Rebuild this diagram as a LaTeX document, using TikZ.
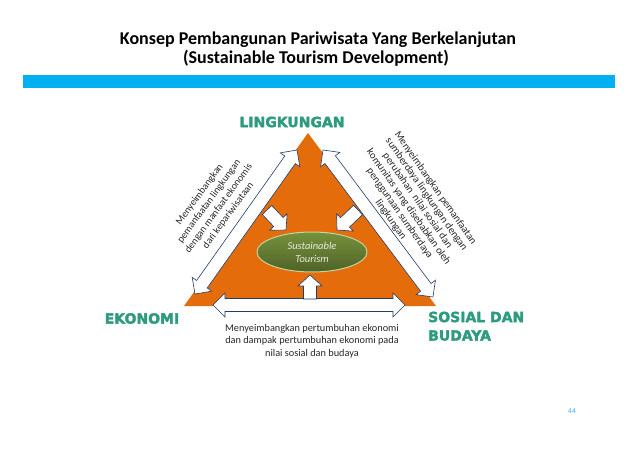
\documentclass[tikz,border=0pt]{standalone}
\usepackage{fontspec}
\setmainfont{Carlito}
\newfontfamily\heavyfont{DejaVu Sans}[FakeBold=2.5]
\usetikzlibrary{calc,shapes.geometric}
\definecolor{barblue}{RGB}{0,176,240}
\definecolor{tealtext}{RGB}{46,155,128}
\definecolor{triorange}{RGB}{228,108,10}
\definecolor{olivetop}{RGB}{118,146,60}
\definecolor{olivebot}{RGB}{79,98,40}
\definecolor{olivering}{RGB}{195,214,155}
\definecolor{coretext}{RGB}{232,236,222}
\definecolor{arrowline}{RGB}{35,60,105}
\definecolor{pagenum}{RGB}{70,170,230}
\tikzset{
  arrowbox/.style={draw=arrowline,fill=white,line width=0.6pt,line join=miter},
  corner/.style={font=\heavyfont\bfseries\fontsize{14}{18.5}\selectfont,text=tealtext,inner sep=0pt},
  note/.style={align=center,inner sep=0pt,text=black!85}
}
% double headed arrow from #1 to #2
\newcommand{\sidearrow}[2]{%
  \coordinate (#1h) at ($(#1)!12pt!(#2)$);
  \coordinate (#2h) at ($(#2)!12pt!(#1)$);
  \draw[arrowbox] (#1)
    -- ($(#1h)!12pt!90:(#2)$) -- ($(#1h)!6.5pt!90:(#2)$)
    -- ($(#2h)!6.5pt!-90:(#1)$) -- ($(#2h)!12pt!-90:(#1)$)
    -- (#2)
    -- ($(#2h)!12pt!90:(#1)$) -- ($(#2h)!6.5pt!90:(#1)$)
    -- ($(#1h)!6.5pt!-90:(#2)$) -- ($(#1h)!12pt!-90:(#2)$)
    -- cycle;}
% single arrow from tail #1 to tip #2
\newcommand{\inarrow}[2]{%
  \coordinate (#2h) at ($(#2)!11pt!(#1)$);
  \draw[arrowbox] ($(#1)!6.5pt!90:(#2)$)
    -- ($(#2h)!6.5pt!-90:(#1)$) -- ($(#2h)!12pt!-90:(#1)$)
    -- (#2)
    -- ($(#2h)!12pt!90:(#1)$) -- ($(#2h)!6.5pt!90:(#1)$)
    -- ($(#1)!6.5pt!-90:(#2)$) -- cycle;}
\begin{document}
\begin{tikzpicture}[x=1pt,y=1pt,line join=round]
  \useasboundingbox (0,0) rectangle (638,451);
  % title
  \node[anchor=base,inner sep=0pt,font=\bfseries\fontsize{18}{22}\selectfont] (title1) at (318,406) {Konsep Pembangunan Pariwisata Yang Berkelanjutan};
  \node[anchor=base,inner sep=0pt,font=\bfseries\fontsize{18}{22}\selectfont] (title2) at (316,387) {(Sustainable Tourism Development)};
  \fill[barblue] (23,363) rectangle (615,376);
  % triangle
  \coordinate (peak) at (308,318);
  \coordinate (lcorner) at (184,145);
  \coordinate (rcorner) at (436,145);
  \fill[triorange] (peak)--(lcorner)--(rcorner)--cycle;
  % arrows along the sides
  \coordinate (la1) at (195,157);
  \coordinate (la2) at (297,301);
  \coordinate (ra1) at (323,301);
  \coordinate (ra2) at (433,154);
  \coordinate (ba1) at (213,146);
  \coordinate (ba2) at (405,146);
  \sidearrow{la1}{la2}
  \sidearrow{ra1}{ra2}
  \sidearrow{ba1}{ba2}
  % arrows to the centre
  \coordinate (ult) at (267,241);
  \coordinate (ulp) at (286,221);
  \coordinate (urt) at (358,241);
  \coordinate (urp) at (337,221);
  \coordinate (bt) at (310,152);
  \coordinate (bp) at (310,176);
  \inarrow{ult}{ulp}
  \inarrow{urt}{urp}
  \inarrow{bt}{bp}
  \node[ellipse,draw=olivering,line width=1pt,top color=olivetop,bottom color=olivebot,
        minimum width=110,minimum height=40,inner sep=0pt,align=center,text=coretext,
        font=\itshape\fontsize{10.5}{13}\selectfont] (core) at (312,199) {Sustainable\\Tourism};
  % corner labels
  \node[corner] (lingkungan) at (292,329) {LINGKUNGAN};
  \node[corner] (ekonomi) at (142,132.5) {EKONOMI};
  \node[corner,anchor=north west,align=left] (sosial) at (428,139.5) {SOSIAL DAN\\BUDAYA};
  % side notes
  \node[note,font=\fontsize{10.3}{12.5}\selectfont] (bottomnote) at (312,110) {Menyeimbangkan pertumbuhan ekonomi\\dan dampak pertumbuhan ekonomi pada\\nilai sosial dan budaya};
  \node[note,rotate=54,font=\fontsize{10}{11.8}\selectfont] (leftnote) at (214,246) {Menyeimbangkan\\pemanfaatan lingkungan\\dengan manfaat ekonomis\\dari kepariwisataan};
  \node[note,rotate=-55,font=\fontsize{10.5}{10.9}\selectfont] (rightnote) at (413,247) {Menyeimbangkan pemanfaatan\\sumberdaya lingkungan dengan\\perubahan\ \ nilai sosial dan\\komunitas yang disebabkan oleh\\penggunaan sumberdaya\\lingkungan};
  \node[text=pagenum,inner sep=0pt,font=\fontsize{7.5}{9}\selectfont] (page) at (572,40) {44};
\end{tikzpicture}
\end{document}
